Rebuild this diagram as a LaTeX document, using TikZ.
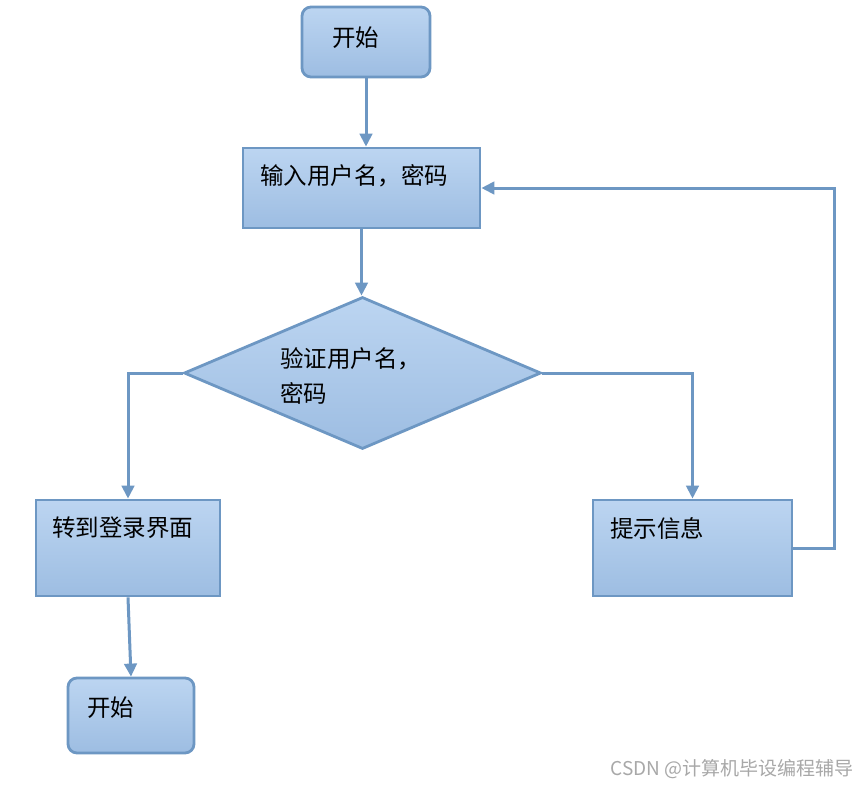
\documentclass[tikz,border=0pt]{standalone}
\usepackage{fontspec}
\newfontfamily\cjk{Noto Sans CJK SC}
\usetikzlibrary{shapes.geometric,arrows.meta}
\definecolor{edgeblue}{HTML}{6D97C3}
\definecolor{topfill}{HTML}{BCD5F1}
\definecolor{botfill}{HTML}{9DBDE2}
\definecolor{wmgray}{HTML}{A8A8A8}
\tikzset{
  boxbase/.style={draw=edgeblue, line width=2.8pt, top color=topfill, bottom color=botfill, inner sep=0pt},
  termbox/.style={boxbase, rounded corners=9pt},
  procbox/.style={boxbase},
  decbox/.style={boxbase, diamond},
  txt/.style={font=\cjk\fontsize{23.5}{35}\selectfont, inner sep=0pt, anchor=west, align=left},
  conn/.style={draw=edgeblue, line width=3pt, -{Triangle[length=13pt,width=12.5pt]}},
}
\begin{document}
\begin{tikzpicture}[x=1pt,y=-1pt]
\useasboundingbox[fill=white] (0,0) rectangle (868,788);
% shapes
\node[termbox, minimum width=128pt, minimum height=70pt] (start) at (366,42) {};
\node[procbox, minimum width=237pt, minimum height=80pt] (input) at (361.5,188) {};
\node[decbox, minimum width=357pt, minimum height=152pt] (dia) at (362.5,373) {};
\node[procbox, minimum width=184pt, minimum height=96pt] (goto) at (128,548) {};
\node[procbox, minimum width=199pt, minimum height=96pt] (tip) at (692.5,548) {};
\node[termbox, minimum width=126pt, minimum height=75pt] (finish) at (131,715.5) {};
% texts
\node[txt] (tstart) at (332,38) {开始};
\node[txt] (tinput) at (260,176) {输入用户名，密码};
\node[txt] (tdia) at (280,375.5) {验证用户名，\\密码};
\node[txt] (tgoto) at (52,528) {转到登录界面};
\node[txt] (ttip) at (610,528) {提示信息};
\node[txt] (tfinish) at (87,708) {开始};
\node[font=\cjk\fontsize{19}{22}\selectfont, text=wmgray, inner sep=0pt, anchor=east] (wm) at (854,769) {CSDN @计算机毕设编程辅导};
% connectors
\coordinate (loopc) at (834,400);
\draw[conn] (start.south) -- (start.south |- input.north);
\draw[conn] (input.south) -- (input.south |- dia.north);
\draw[conn] (dia.west) -| (goto.north);
\draw[conn] (dia.east) -| (tip.north);
\draw[conn] (goto.south) -- (finish.north);
\draw[conn] (tip.east) -| (loopc) |- (input.east);
\end{tikzpicture}
\end{document}
